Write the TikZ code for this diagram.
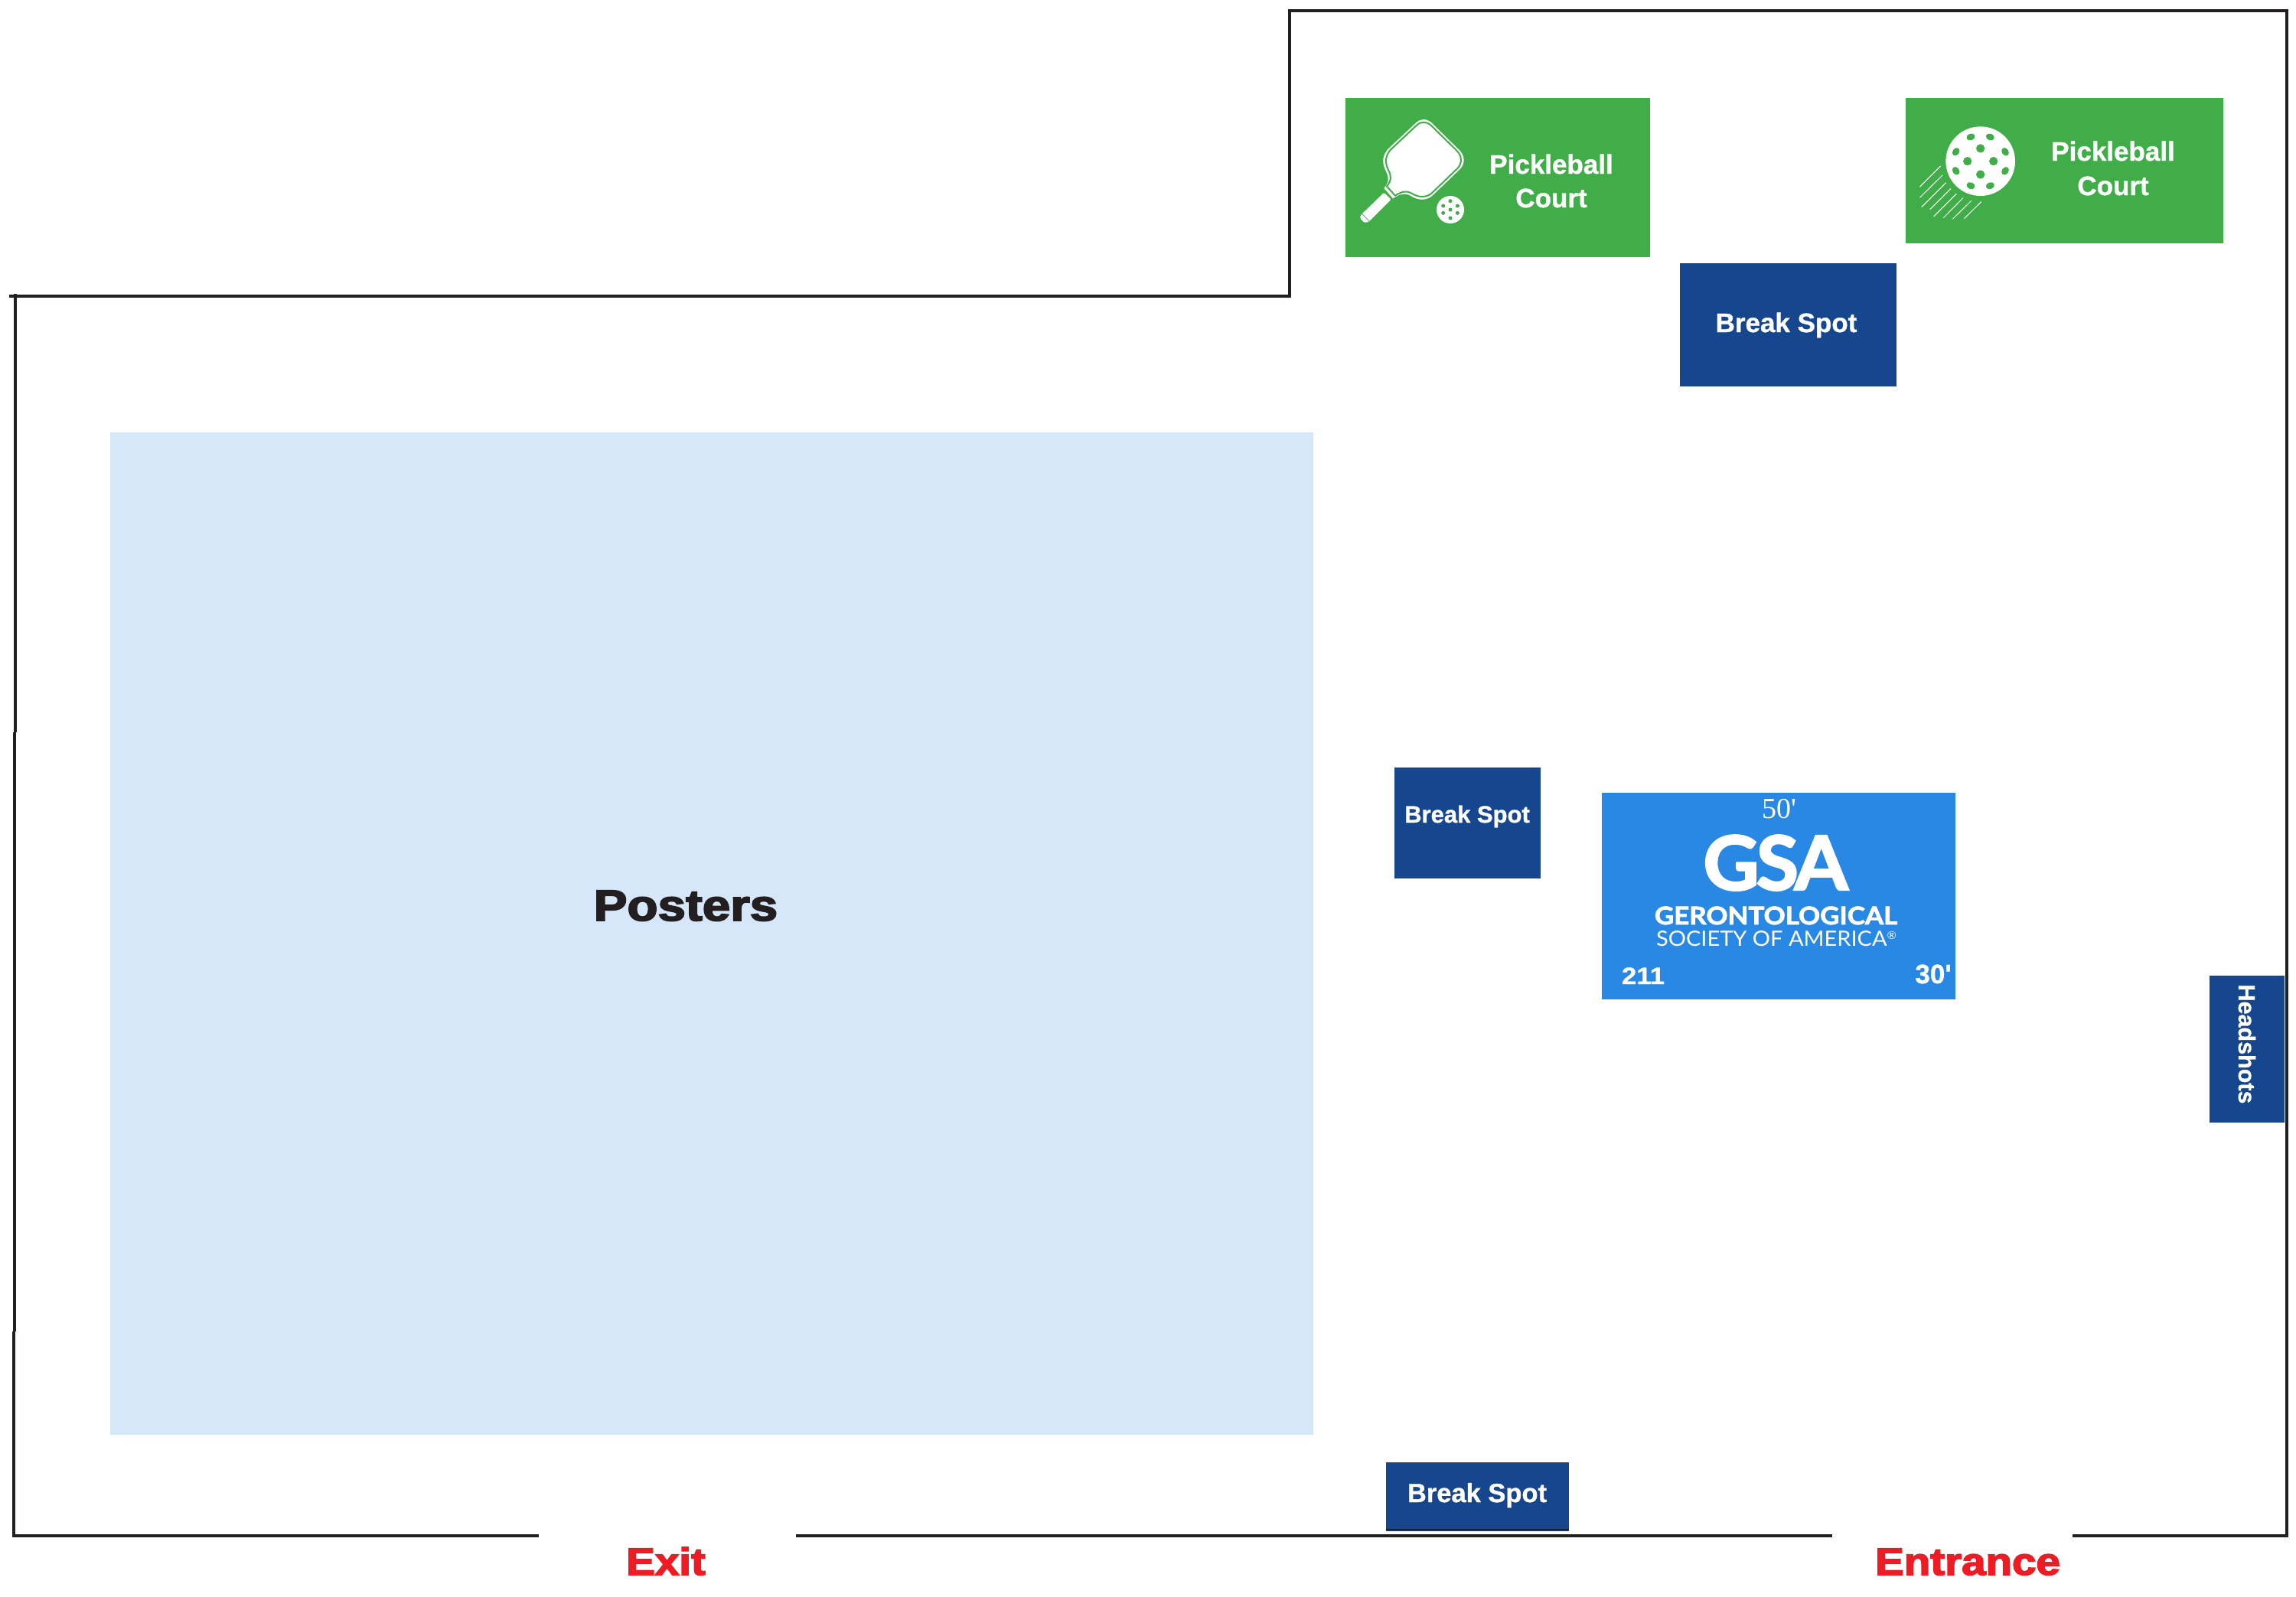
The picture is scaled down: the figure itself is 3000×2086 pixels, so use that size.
\documentclass[tikz,border=0pt]{standalone}
\usepackage{fontspec}
\setmainfont[RawFeature={embolden=1}]{Liberation Sans}
\newfontfamily\heavy[RawFeature={embolden=3}]{Liberation Sans}
\newfontfamily\lserif[Ligatures=ResetAll]{Liberation Serif}
\newfontfamily\plainsans[Ligatures=ResetAll,RawFeature={embolden=1}]{Liberation Sans}
\newfontfamily\logofont{Lato}
\newfontfamily\logoheavy[RawFeature={embolden=2.5}]{Lato}
\newcommand\fpx[1]{\fontsize{#1}{#1}\selectfont}
\definecolor{wallc}{HTML}{231F20}
\definecolor{courtc}{HTML}{41AD49}
\definecolor{spotc}{HTML}{16478E}
\definecolor{gsac}{HTML}{2888E4}
\definecolor{posterc}{HTML}{D5E7F8}
\definecolor{signc}{HTML}{ED1C24}
\tikzset{
  wall/.style={draw=wallc,line width=4pt,line cap=butt},
  area/.style={anchor=north west,inner sep=0pt,outer sep=0pt,draw=none},
  court/.style={area,fill=courtc},
  spot/.style={area,fill=spotc},
  lab/.style={inner sep=0pt,outer sep=0pt,anchor=base,text=white,font=\bfseries},
  sign/.style={inner sep=0pt,outer sep=0pt,anchor=base,text=signc,font={\heavy\bfseries\fpx{50}},xscale=1.13,transform shape},
}
\begin{document}
\begin{tikzpicture}[x=1pt,y=-1pt]
\useasboundingbox (0,0) rectangle (3000,2086);
% areas
\node[area,fill=posterc,minimum width=1572pt,minimum height=1310pt] (posters) at (144,565) {};
\node[court,minimum width=398pt,minimum height=208pt] (court1) at (1758,128) {};
\node[court,minimum width=415pt,minimum height=190pt] (court2) at (2490,128) {};
\node[spot,minimum width=283pt,minimum height=161pt] (spot1) at (2195,344) {};
\node[spot,minimum width=191pt,minimum height=145pt] (spot2) at (1822,1003) {};
\node[spot,minimum width=239pt,minimum height=90pt] (spot3) at (1811,1911) {};
\node[spot,minimum width=98pt,minimum height=192pt] (heads) at (2887,1275) {};
\node[area,fill=gsac,minimum width=462pt,minimum height=270pt] (gsa) at (2093,1035.5) {};
% walls
\draw[wall] (1685,12) -- (1685,389);
\draw[wall] (1683,14) -- (2990,14);
\draw[wall] (12,387) -- (1685,387);
\draw[wall] (20,384) -- (20,957);
\draw[wall] (19,957) -- (19,1740);
\draw[wall] (18,1740) -- (18,2009);
\draw[wall] (16,2007) -- (704,2007);
\draw[wall] (1040,2007) -- (2394,2007);
\draw[wall] (2708,2007) -- (2990,2007);
\draw[wall] (2988,12) -- (2988,2009);
\draw[wallc,line width=1.5pt] (spot3.south west) ++(0,-2) -- ++(239,0);
% labels
\node[lab,font={\bfseries\fpx{35}}] (l1) at (2334,434) {Break Spot};
\node[lab,font={\bfseries\fpx{31}}] (l2) at (1917,1075) {Break Spot};
\node[lab,font={\bfseries\fpx{34.5}}] (l3) at (1930,1963) {Break Spot};
\node[lab,font={\bfseries\fpx{30.5}},rotate=-90] (l4) at (2925,1364.5) {Headshots};
\node[lab,font={\bfseries\fpx{35}}] (c1a) at (2027,227) {Pickleball};
\node[lab,font={\bfseries\fpx{35}}] (c1b) at (2027,271) {Court};
\node[lab,font={\bfseries\fpx{35}}] (c2a) at (2761,210) {Pickleball};
\node[lab,font={\bfseries\fpx{35}}] (c2b) at (2761,255) {Court};
\node[sign] (exit) at (870,2058) {Exit};
\node[sign] (entr) at (2571,2058) {Entrance};
\node[inner sep=0pt,outer sep=0pt,anchor=base,text=wallc,font={\heavy\bfseries\fpx{57}},xscale=1.15,transform shape] (plab) at (896,1203) {Posters};
% GSA block
\node[lab,font={\lserif\fpx{38}}] (g50) at (2325,1069) {50'};
\node[lab,font={\logoheavy\bfseries\fpx{98}\addfontfeature{LetterSpace=-4}},xscale=1.03,transform shape] (glogo) at (2320,1163) {GSA};
\node[lab,font={\logoheavy\bfseries\fpx{32}},xscale=1.09,transform shape] (gname) at (2320.5,1208) {GERONTOLOGICAL};
\node[lab,anchor=base west,font={\logofont\mdseries\fpx{27.5}},xscale=1.055,transform shape] (gsoc) at (2164,1236) {SOCIETY OF AMERICA\raisebox{9pt}{\fpx{14}®}};
\node[lab,font={\bfseries\fpx{31}},xscale=1.12,transform shape] (g211) at (2147,1286) {211};
\node[lab,font={\plainsans\bfseries\fpx{35}}] (g30) at (2526,1285) {30'};
% paddle icon
\begin{scope}[shift={(1740,110)},x=0.33333pt,y=-0.33333pt]
  \def\padpath{(332,150) .. controls (350,134) and (372,134) .. (392,152)
    -- (500,258) .. controls (522,280) and (524,310) .. (504,332)
    -- (400,432) .. controls (378,455) and (345,460) .. (310,438)
    .. controls (290,426) and (270,428) .. (240,448)
    -- (205,408) .. controls (225,385) and (225,365) .. (212,340)
    .. controls (195,305) and (200,280) .. (220,255) -- cycle}
  \fill[white] \padpath;
  \begin{scope}[shift={(360,295)},scale=0.93,shift={(-360,-295)}]
    \draw[courtc,line width=2pt,line join=round] \padpath;
  \end{scope}
  \fill[white,rounded corners=1.5pt] (205,425) -- (233,452) -- (145,540) -- (128,543) -- (112,527) -- (112,515) -- cycle;
  \draw[courtc,line width=0.7pt] (117,507) -- (150,540);
  \fill[white] (465,492) circle (54);
  \foreach \hx/\hy in {465/458,437/477,493/477,465/492,437/505,493/505,465/525}
    \fill[courtc] (\hx,\hy) circle (7.5);
\end{scope}
% ball icon
\begin{scope}[shift={(2470,110)},x=0.33333pt,y=-0.33333pt]
  \fill[white] (353,302) circle (136);
  \foreach \hx/\hy in {353/252,302/302,404/302,353/354}
    \fill[courtc] (\hx,\hy) circle (17);
  \foreach \hx/\hy/\ang in {315/207/20,391/207/-20,257/265/55,450/265/-55,257/340/-55,450/340/55,315/398/-20,391/398/20}
    \fill[courtc,rotate around={\ang:(\hx,\hy)}] (\hx,\hy) ellipse (17 and 13);
  \foreach \ax/\ay/\bx/\by in {115/403/197/321,115/445/205/356,122/482/218/386,155/491/237/409,170/519/259/430,208/524/285/446,244/529/317/457,289/527/356/461}
    \draw[white,line width=1pt] (\ax,\ay) -- (\bx,\by);
\end{scope}
\end{tikzpicture}
\end{document}
